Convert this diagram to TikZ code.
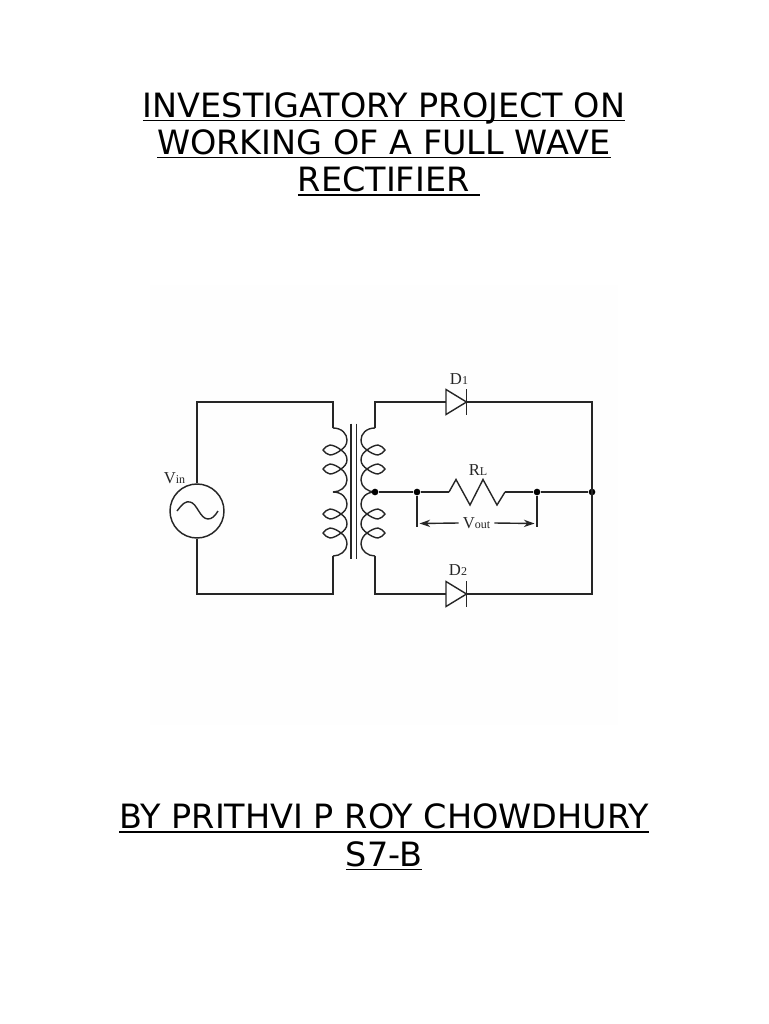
\documentclass[tikz,border=0pt]{standalone}
\usepackage{fontspec}
\setmainfont{DejaVu Sans}
\newfontfamily\serifcirc{Liberation Serif}
\usetikzlibrary{arrows.meta}
\definecolor{wire}{HTML}{262626}
\newcommand{\ul}[1]{\setbox0=\hbox{#1}\rlap{\rule[-2.7pt]{\wd0}{0.95pt}}\box0}
\tikzset{
  px/.style={x=0.75pt,y=-0.75pt},
  wireline/.style={draw=wire,line width=1.25pt,line join=miter},
  thinline/.style={draw=wire,line width=1.05pt},
  titletext/.style={font=\fontsize{25.1}{28}\selectfont,align=center,inner sep=0pt,text=black},
  junction/.style={circle,fill=black,inner sep=0pt,minimum size=5pt},
  lab/.style={font=\serifcirc\fontsize{12.5}{14}\selectfont,inner sep=0pt,text=wire},
  vsource/.style={circle,draw=wire,line width=1.1pt,minimum size=40.5pt,inner sep=0pt},
  coilhalf/.pic={
    \draw[thinline] (0,0) .. controls (9,0) and (14,6) .. (14,12)
      .. controls (14,17) and (11,20) .. (8,22)
      .. controls (5,24.5) and (0,27) .. (-3,27)
      .. controls (-6,27) and (-8,24) .. (-10,22)
      .. controls (-8,20) and (-6,17) .. (-3,17)
      .. controls (0,17) and (5,19.5) .. (8,22)
      .. controls (11,24) and (14,27) .. (14,32)
      .. controls (14,36) and (11,39) .. (8,41)
      .. controls (5,43.5) and (0,46) .. (-3,46)
      .. controls (-6,46) and (-8,43) .. (-10,41)
      .. controls (-8,39) and (-6,36) .. (-3,36)
      .. controls (0,36) and (5,38.5) .. (8,41)
      .. controls (11,43) and (14,47) .. (14,52)
      .. controls (14,59) and (7,64) .. (0,64);
  }
}
\begin{document}
\begin{tikzpicture}[px]
\useasboundingbox (0,0) rectangle (768,1024);
\fill[white] (0,0) rectangle (768,1024);
\fill[fill={rgb,255:red,254;green,254;blue,254}] (150,285) rectangle (618,725);

\node[titletext] (title) at (384,144) {\ul{INVESTIGATORY PROJECT ON}\\\ul{WORKING OF A FULL WAVE}\\\hspace*{7.5pt}\ul{RECTIFIER\ }};
\node[titletext] (author) at (384,837) {\ul{BY PRITHVI P ROY CHOWDHURY}\\\ul{S7-B}};

% coordinates
\coordinate (tl) at (197,402);
\coordinate (bl) at (197,594);
\coordinate (ptop) at (333,402);
\coordinate (ptopc) at (333,428);
\coordinate (pbot) at (333,594);
\coordinate (pbotc) at (333,556);
\coordinate (stop) at (375,402);
\coordinate (stopc) at (375,428);
\coordinate (sbot) at (375,594);
\coordinate (sbotc) at (375,556);
\coordinate (tr) at (592,402);
\coordinate (br) at (592,594);

\node[vsource] (src) at (197,511) {};
\draw[thinline] (177,511) .. controls (183,503) and (186,501) .. (190,502)
  .. controls (197,503) and (200,519) .. (208,519)
  .. controls (212,519) and (215,516) .. (218,511);
\node[lab,anchor=base west] (vinv) at (163.5,483) {V{\fontsize{9}{10}\selectfont in}};

% primary
\draw[wireline] (src.north) -- (tl) -- (ptop) -- (ptopc);
\draw[wireline] (src.south) -- (bl) -- (pbot) -- (pbotc);
\path (333,428) pic {coilhalf};
\path (333,492) pic {coilhalf};
% core
\coordinate (c1t) at (351,423.5); \coordinate (c1b) at (351,559);
\coordinate (c2t) at (356.5,423.5); \coordinate (c2b) at (356.5,559);
\draw[thinline] (c1t) -- (c1b);
\draw[thinline] (c2t) -- (c2b);
% secondary
\path (375,428) pic[xscale=-1] {coilhalf};
\path (375,492) pic[xscale=-1] {coilhalf};

% nodes on the output side
\node[junction] (jc) at (375,492) {};
\node[junction] (ja) at (417,492) {};
\node[junction] (jb) at (537,492) {};
\node[junction] (jr) at (592,492) {};

% diodes
\coordinate (d1a) at (446,402); \coordinate (d1c) at (466.5,402);
\coordinate (d2a) at (446,594); \coordinate (d2c) at (466.5,594);
\draw[wireline] (stopc) -- (stop) -- (d1a);
\draw[thinline] (d1a) -- (446,389.5) -- (d1c) -- (446,414.5) -- cycle;
\draw[thinline] (466.5,389) -- (466.5,415);
\draw[wireline] (d1c) -- (tr) -- (br) -- (d2c);
\draw[thinline] (d2a) -- (446,581.5) -- (d2c) -- (446,606.5) -- cycle;
\draw[thinline] (466.5,581) -- (466.5,607);
\draw[wireline] (sbotc) -- (sbot) -- (d2a);
\node[lab] (d1l) at (459,379) {D{\fontsize{9}{10}\selectfont 1}};
\node[lab] (d2l) at (458,570) {D{\fontsize{9}{10}\selectfont 2}};

% load
\coordinate (r1) at (449,492); \coordinate (r2) at (505,492);
\draw[wireline] (jc) -- (ja) -- (r1);
\draw[thinline] (r1) -- (456,479.5) -- (470,505) -- (483,479.5) -- (497,505) -- (r2);
\draw[wireline] (r2) -- (jb) -- (jr);
\node[lab] (rl) at (478,470) {R{\fontsize{9}{10}\selectfont L}};

% Vout
\coordinate (va) at (417,527); \coordinate (vb) at (537,527);
\draw[thinline] (ja) -- (va);
\draw[thinline] (jb) -- (vb);
\node[lab,inner xsep=3pt] (vout) at (476.5,523) {V{\fontsize{9}{10}\selectfont out}};
\coordinate (aa) at (419.5,523.5); \coordinate (ab) at (534.5,523.5);
\draw[thinline,-{Stealth[length=8pt,width=5.5pt]}] (vout.west) -- (aa);
\draw[thinline,-{Stealth[length=8pt,width=5.5pt]}] (vout.east) -- (ab);
\end{tikzpicture}
\end{document}
